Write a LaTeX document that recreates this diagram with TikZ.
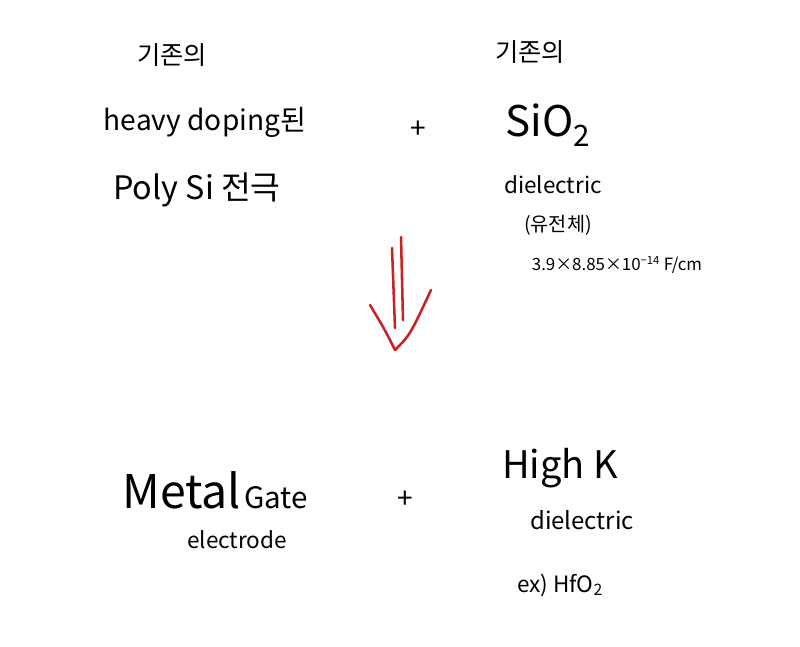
\documentclass[tikz,border=0pt]{standalone}
\usepackage{fontspec}
\setmainfont{Noto Sans CJK KR}
\newcommand{\bigtext}{\fontsize{20}{22}\selectfont}
\newcommand{\midtext}{\fontsize{16}{18}\selectfont}
\newcommand{\smalltext}{\fontsize{12}{14}\selectfont}
\definecolor{penred}{RGB}{200,35,35}

\begin{document}
\begin{tikzpicture}[x=0.025cm,y=-0.025cm]

\tikzstyle{word}=[inner sep=0pt,anchor=center]
\tikzstyle{pen}=[penred,line width=1.8pt,line cap=round,line join=round]

\useasboundingbox (0,0) rectangle (800,646);

% old gate stack
\node[word](oldleft) at (172,55){\fontsize{18}{20}\selectfont 기존의};
\node[word](heavy) at (205,122){\bigtext heavy doping된};
\node[word](poly) at (197,190){\fontsize{23}{25}\selectfont Poly Si 전극};
\node[word](plustop) at (418,130){\bigtext +};
\node[word](oldright) at (530,52){\fontsize{18}{20}\selectfont 기존의};
\node[word](sio) at (548,125){\fontsize{30}{32}\selectfont SiO\textsubscript{2}};
\node[word](diel) at (553,185){\midtext dielectric};
\node[word](yujeon) at (558,225){\fontsize{14}{16}\selectfont (유전체)};
\node[word](value) at (617,265){\smalltext 3.9×8.85×10\textsuperscript{−14} F/cm};

% arrow
\coordinate (a1) at (392,248);
\coordinate (a2) at (395,328);
\coordinate (b1) at (401,237);
\coordinate (b2) at (403,320);
\coordinate (h1) at (370,305);
\coordinate (h2) at (395,350);
\coordinate (h3) at (431,290);
\draw[pen] (a1) -- (a2);
\draw[pen] (b1) -- (b2);
\draw[pen] (h1) .. controls (385,330) .. (h2) .. controls (410,335) .. (h3);

% new gate stack
\node[word](metal) at (215,490){{\fontsize{33}{35}\selectfont Metal} {\fontsize{21}{23}\selectfont Gate}};
\node[word](electrode) at (237,540){\midtext electrode};
\node[word](plusbot) at (405,500){\bigtext +};
\node[word](highk) at (560,468){\fontsize{27}{29}\selectfont High K};
\node[word](newdiel) at (582,520){\fontsize{17}{19}\selectfont dielectric};
\node[word](hfo) at (560,585){\midtext ex) HfO\textsubscript{2}};

\end{tikzpicture}
\end{document}
